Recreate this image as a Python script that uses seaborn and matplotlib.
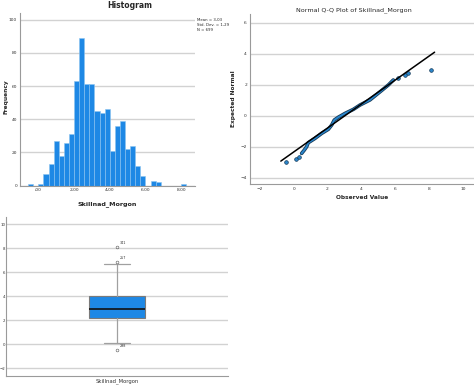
import numpy as np
import pandas as pd
import matplotlib
matplotlib.use("Agg")
import matplotlib.pyplot as plt
import seaborn as sns

# histogram (SPSS output, bins of width 2/7)
bin_width = 2 / 7
first_bin = -2  # index of the first bin (left edge = first_bin * bin_width)
counts = [1, 0, 1, 7, 13, 27, 18, 26, 31, 63, 89, 61, 61, 45, 44, 46, 21,
          36, 39, 22, 24, 12, 6, 0, 3, 2, 0, 0, 0, 0, 1]
mean, sd, n = 3.03, 1.29, 699
hist_xticks = [0, 2, 4, 6, 8]
hist_xlabels = [",00", "2,00", "4,00", "6,00", "8,00"]

qq_low_obs = [-0.46, 0.12, 0.31]
qq_low_exp = [-2.98, -2.80, -2.65]
qq_mid_obs = [0.47, 0.63, 0.77, 0.86, 1.26, 1.66, 2.05, 2.25, 2.40, 2.64,
              3.04, 3.53, 3.92, 4.51, 5.11, 5.60, 5.89]
qq_mid_exp = [-2.44, -2.22, -2.00, -1.75, -1.47, -1.14, -0.88, -0.60, -0.28,
              -0.10, 0.15, 0.41, 0.69, 1.02, 1.55, 1.99, 2.31]
qq_high_obs = [6.19, 6.59, 6.78, 8.13]
qq_high_exp = [2.42, 2.63, 2.74, 2.96]

# boxplot
box_stats = dict(med=2.92, q1=2.22, q3=4.00, whislo=0.08, whishi=6.67)
outliers = [8.13, 6.88, -0.50]
outlier_ids = ["341", "257", "298"]

blue = "#1E88E5"
grid = "#d2d2d2"

sns.set_style("white")
plt.rcParams["font.family"] = ["Liberation Sans Narrow", "DejaVu Sans"]
plt.rcParams["axes.edgecolor"] = "#9a9a9a"
plt.rcParams["axes.linewidth"] = 0.8

fig = plt.figure(figsize=(4.74, 3.86), dpi=100)
W, H = 474, 386


def axes_px(x0, y0, x1, y1):
    return fig.add_axes([x0 / W, 1 - y1 / H, (x1 - x0) / W, (y1 - y0) / H])


def style(ax, yticks, pad=2):
    ax.set_yticks(yticks)
    ax.grid(axis="y", color=grid, lw=1.0)
    ax.grid(axis="x", visible=False)
    ax.set_axisbelow(True)
    sns.despine(ax=ax)
    ax.tick_params(labelsize=3.2, length=0, pad=2, colors="#333333")
    ax.tick_params(axis="y", pad=pad)


# ---- Histogram
ax1 = axes_px(20, 13, 195, 185.7)
lo = first_bin * bin_width
hi = (first_bin + len(counts)) * bin_width
centers = [lo + (i + 0.5) * bin_width for i in range(len(counts))]
hist_df = pd.DataFrame({"value": centers, "count": counts})
sns.histplot(data=hist_df, x="value", weights="count", binwidth=bin_width,
             binrange=(lo, hi), ax=ax1, color=blue, alpha=1,
             edgecolor="#8cc3f0", linewidth=0.4)
ax1.set_xlim(-1.03, 8.78)
ax1.set_ylim(0, 104)
style(ax1, [0, 20, 40, 60, 80, 100])
ax1.set_xticks(hist_xticks)
ax1.set_xticklabels(hist_xlabels)
ax1.set_xlabel("")
ax1.set_ylabel("")
fig.text(6 / W, 1 - 97 / H, "Frequency", rotation=90, fontsize=4.2,
         weight="bold", ha="center", va="center")
fig.text(130 / W, 1 - 5 / H, "Histogram", fontsize=5.5, weight="bold",
         ha="center", va="center")
mean_s = f"{mean:.2f}".replace(".", ",")
sd_s = f"{sd:.2f}".replace(".", ",")
fig.text(197 / W, 1 - 18 / H, f"Mean = {mean_s}\nStd. Dev. = {sd_s}\nN = {n}",
         fontsize=2.8, ha="left", va="top", linespacing=1.3)

# ---- Normal Q-Q plot
ax2 = axes_px(249.7, 14, 474, 184)
sns.lineplot(x=qq_mid_obs, y=qq_mid_exp, ax=ax2, color="#163a58", lw=2.6, sort=False)
sns.lineplot(x=qq_mid_obs, y=qq_mid_exp, ax=ax2, color="#2a86cc", lw=1.4, sort=False)
sns.scatterplot(x=qq_low_obs + qq_high_obs, y=qq_low_exp + qq_high_exp, ax=ax2,
                color="#2a86cc", edgecolor="#163a58", s=7, linewidth=0.5)
all_obs = qq_low_obs + qq_mid_obs + qq_high_obs
line_x = np.array([min(all_obs) - 0.3, max(all_obs) + 0.2])
ax2.plot(line_x, (line_x - mean) / sd, color="black", lw=1.1)
ax2.set_xlim(-2.6, 10.66)
ax2.set_ylim(-4.42, 6.58)
style(ax2, [-4, -2, 0, 2, 4, 6])
ax2.set_xticks([-2, 0, 2, 4, 6, 8, 10])
ax2.set_xlabel("Observed Value", fontsize=4.2, weight="bold", labelpad=3)
ax2.set_ylabel("Expected Normal", fontsize=4.2, weight="bold", labelpad=3)
fig.text(354 / W, 1 - 10 / H, "Normal Q-Q Plot of Skillnad_Morgon", fontsize=4.6,
         ha="center", va="center")

# ---- Boxplot
ax3 = axes_px(6, 217.3, 228, 375.7)
stats = dict(box_stats, fliers=outliers, label="Skillnad_Morgon")
ax3.bxp([stats], positions=[0], widths=0.5, patch_artist=True,
        boxprops=dict(facecolor=blue, edgecolor="#7a7a7a", lw=0.8),
        medianprops=dict(color="#111111", lw=1.2),
        whiskerprops=dict(color="#a0a0a0", lw=0.9),
        capprops=dict(color="#a0a0a0", lw=0.9), capwidths=0.24,
        flierprops=dict(marker="o", markersize=2, markerfacecolor="none",
                        markeredgecolor="#555555", markeredgewidth=0.4))
for val, lab in zip(outliers, outlier_ids):
    ax3.annotate(lab, (0, val), xytext=(2, 2), textcoords="offset points",
                 fontsize=2.4, color="#333333")
ax3.set_xlim(-1, 1)
ax3.set_ylim(-2.62, 10.58)
style(ax3, [-2, 0, 2, 4, 6, 8, 10], pad=0.6)
ax3.tick_params(axis="y", labelsize=2.8)
ax3.set_xticks([0])
ax3.set_xticklabels(["Skillnad_Morgon"], fontsize=3.8)
fig.text(107 / W, 1 - 204 / H, "Skillnad_Morgon", fontsize=4.6, weight="bold",
         ha="center", va="center")

fig.savefig("out.png", dpi=100)
